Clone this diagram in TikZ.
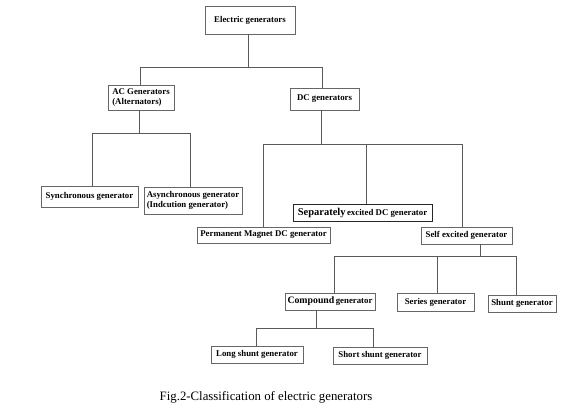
\documentclass[tikz,border=0pt]{standalone}
\usepackage{fontspec}
\setmainfont{Liberation Serif}
\usepackage{tikz}

\tikzset{
  box/.style={draw=black!60, fill=white, line width=0.6pt, inner sep=1pt, align=center,
    font=\fontsize{8.8}{9.6}\selectfont\bfseries},
  link/.style={draw=black!65, line width=0.6pt}
}

\begin{document}
\begin{tikzpicture}[x=1pt, y=-1pt]
\useasboundingbox (0,0) rectangle (584,418);

\node[box, minimum width=90pt, minimum height=28pt] (eg) at (250,20) {Electric generators};
\node[box, minimum width=66pt, minimum height=25pt, align=left] (ac) at (141,97.5) {AC Generators\\(Alternators)};
\node[box, minimum width=69pt, minimum height=22pt] (dc) at (324.5,99) {DC generators};

\node[box, minimum width=97pt, minimum height=21pt] (syn) at (89.5,196.5) {Synchronous generator};
\node[box, minimum width=98pt, minimum height=27pt, align=left] (asyn) at (193,200.5) {Asynchronous generator\\(Indcution generator)};

\node[box, minimum width=133pt, minimum height=16pt] (pm) at (263.5,235) {Permanent Magnet DC generator};
\node[box, draw=black!85, line width=0.8pt, minimum width=139pt, minimum height=17pt] (sep) at (362.5,212.5) {{\fontsize{10.5}{11}\selectfont Separately}\,excited DC generator};
\node[box, minimum width=91pt, minimum height=17pt] (self) at (466.5,235.5) {Self excited generator};

\node[box, minimum width=90pt, minimum height=17pt] (comp) at (330,301.5) {{\fontsize{9.8}{10}\selectfont Compound}\,generator};
\node[box, minimum width=77pt, minimum height=18pt] (ser) at (435.5,302) {Series generator};
\node[box, minimum width=68pt, minimum height=17pt] (shu) at (522,303.5) {Shunt generator};

\node[box, minimum width=92pt, minimum height=17pt] (long) at (257,354.5) {Long shunt generator};
\node[box, minimum width=94pt, minimum height=17pt] (short) at (380,355.5) {Short shunt generator};

\node[font=\fontsize{12.8}{14}\selectfont] (cap) at (266,397) {Fig.2-Classification of electric generators};

\draw[link] ([xshift=-2pt]eg.south) -- ++(0,33) coordinate (j1);
\draw[link] ([xshift=-1pt]ac.north) |- (j1) -| ([xshift=-2pt]dc.north);

\draw[link] ([xshift=-2pt]ac.south) -- ++(0,23) coordinate (j2);
\draw[link] ([xshift=2.5pt]syn.north) |- (j2) -| ([xshift=-3pt]asyn.north);

\draw[link] ([xshift=-3pt]dc.south) -- ++(0,34) coordinate (j3);
\draw[link] (pm.north) |- (j3) -| ([xshift=-4.5pt]self.north);
\draw[link] ([xshift=3.5pt]sep.north) -- ([xshift=3.5pt]sep.north |- j3);

\draw[link] ([xshift=13.5pt]self.south) -- ++(0,12) coordinate (j4);
\draw[link] ([xshift=4pt]comp.north) |- (j4) -| ([xshift=-6pt]shu.north);
\draw[link] ([xshift=1.5pt]ser.north) -- ([xshift=1.5pt]ser.north |- j4);

\draw[link] ([xshift=-14pt]comp.south) -- ++(0,18) coordinate (j5);
\draw[link] ([xshift=-1pt]long.north) |- (j5) -| ([xshift=-7pt]short.north);
\end{tikzpicture}
\end{document}
